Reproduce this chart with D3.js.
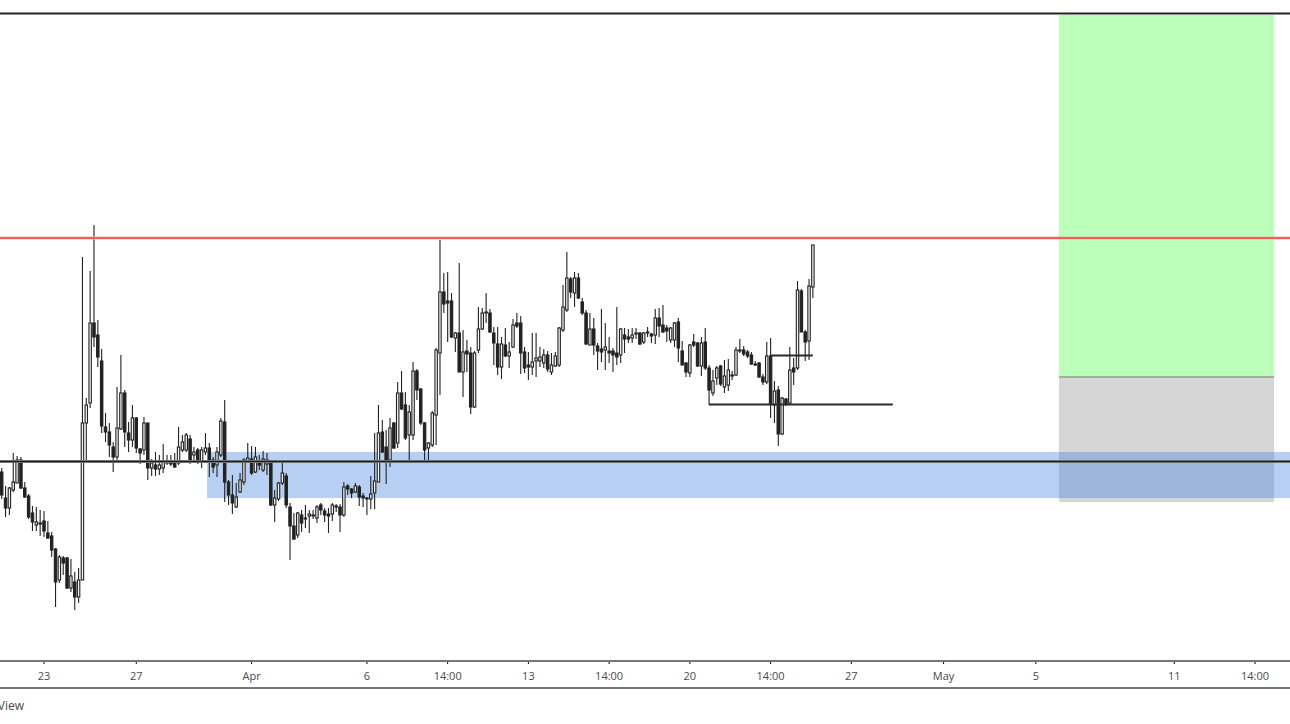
<!DOCTYPE html>
<html>
<head>
<meta charset="utf-8">
<script src="https://cdn.jsdelivr.net/npm/d3@7"></script>
<style>
html, body { margin: 0; padding: 0; background: #fff; overflow: hidden; }
</style>
</head>
<body>
<div id="container"></div>
<script>
// 4h candles, one array per field. price units are arbitrary (no price axis in the picture)
const opens = [
228,202,192,210,217,240,212,204,187,175,177,179,167,164,151,120,142,142,112,118,
103,120,277,297,377,365,339,273,268,253,243,271,307,267,260,282,251,250,277,232,
235,231,232,238,238,238,237,250,250,261,245,250,238,248,252,240,235,245,278,218,
205,193,208,218,238,241,228,238,230,236,237,195,201,217,224,193,174,165,185,182,
184,185,182,195,189,186,186,194,193,185,214,211,208,213,204,202,201,207,218,268,
253,240,277,257,307,295,265,265,329,311,277,252,255,285,347,408,399,399,362,367,
328,349,347,293,350,371,388,387,367,356,333,355,344,353,377,377,348,335,333,339,
339,337,345,328,334,335,370,390,421,407,422,398,387,355,371,354,351,350,349,349,
347,345,365,363,362,366,367,358,368,366,365,382,375,372,360,360,378,349,337,327,
358,357,334,358,332,307,322,334,313,315,325,325,350,350,348,345,336,337,323,318,
344,295,310,266,301,297,332,332,409,368,359,413
];
const highs = [
232,214,213,247,244,243,218,206,194,193,190,189,179,168,152,145,144,143,141,128,
132,443,302,429,475,380,351,287,277,258,313,345,310,278,295,283,252,283,277,241,
248,245,256,245,245,247,273,265,267,265,253,252,253,267,257,243,253,282,300,220,
225,217,227,242,257,254,253,245,249,247,238,210,218,238,227,197,187,188,190,195,
190,190,195,197,192,192,197,196,196,218,216,212,217,215,207,203,224,267,295,280,
270,282,278,318,329,308,295,338,331,312,278,258,289,352,460,427,428,407,368,437,
370,360,353,349,393,392,407,391,373,373,363,372,358,381,387,384,353,348,367,367,
353,351,349,347,348,373,415,448,423,428,427,402,390,387,382,357,391,377,363,352,
393,372,372,371,372,372,368,368,373,367,391,392,395,375,373,378,382,359,338,356,
366,358,363,372,335,330,334,335,340,341,329,353,361,354,350,348,339,338,326,358,
362,319,314,303,302,353,342,419,411,370,421,455
];
const lows = [
201,183,185,208,217,211,202,181,169,169,164,163,161,143,93,117,125,111,108,90,
97,120,237,292,353,333,267,258,243,228,238,270,253,248,253,247,236,245,220,224,
224,225,227,235,234,232,235,248,248,236,238,236,232,245,223,227,223,243,198,195,
186,192,207,215,237,225,227,230,228,225,194,178,199,215,192,140,160,162,168,172,
167,181,177,185,178,167,179,188,168,183,205,202,207,194,193,185,191,191,218,247,
216,233,251,252,290,260,237,260,300,275,237,237,253,255,305,387,358,362,348,328,
303,328,286,292,347,370,377,367,335,325,321,343,332,352,372,326,327,320,325,323,
333,332,328,325,333,333,368,388,402,393,401,385,355,355,345,330,338,330,337,328,
335,337,347,357,357,361,355,356,363,357,356,363,367,358,357,353,338,335,323,323,
353,333,324,330,295,304,315,314,307,309,320,324,347,344,342,335,334,322,315,316,
282,277,254,265,294,295,315,330,368,339,340,402
];
const closes = [
205,192,212,218,240,212,203,183,178,178,176,169,162,150,118,143,137,112,124,103,
120,277,295,377,363,343,274,268,255,243,272,307,268,260,282,252,247,277,232,237,
231,235,238,237,236,233,253,258,265,240,248,238,250,252,238,233,248,279,218,205,
197,203,220,240,242,227,243,235,241,240,195,202,217,227,195,174,161,187,177,181,
186,184,193,190,185,184,195,193,185,213,211,207,214,203,202,201,206,219,267,248,
238,272,252,307,291,262,288,329,310,277,250,257,287,350,408,396,397,363,367,328,
348,346,293,347,371,387,387,368,357,333,356,344,348,375,374,347,332,333,338,342,
343,345,331,335,344,372,393,422,408,422,402,387,356,371,355,349,348,353,347,345,
343,371,361,361,365,367,356,367,367,364,382,374,368,369,372,377,352,335,328,355,
355,334,357,332,310,319,332,316,324,330,324,350,349,346,344,336,335,323,318,344,
296,309,266,302,296,330,328,410,368,358,414,455
];

// price levels and zones
const topLevel = 686.5;
const resistance = 462;
const support = 238.5;
const zoneHigh = 248;
const zoneLow = 202;
const boxTop = 686;
const boxMid = 323;
const boxBottom = 198;
const zoneStart = 7.07;
const boxStart = 44;
const boxEnd = 53.33;
const shortLines = [
    { price: 295.5, from: 28.83, to: 36.8 },
    { price: 344.5, from: 31.5, to: 33.33 }
];

// x axis, in days after the "23" tick
const tickDays = [0, 4, 9, 14, 17.5, 21, 24.5, 28, 31.5, 35, 39, 43, 49, 52.5];
const tickLabels = ["23", "27", "Apr", "6", "14:00", "13", "14:00", "20", "14:00", "27", "May", "5", "11", "14:00"];

const width = 1290;
const height = 724;
const axisTop = 661;
const axisBottom = 688;
const barsPerDay = 6;
const firstBarDay = -11 / barsPerDay;

const x = d3.scaleLinear().domain([0, 52.5]).range([44, 1255]);
const y = d3.scaleLinear().domain([0, 700]).range([700, 0]);
const barDay = i => firstBarDay + i / barsPerDay;

const svg = d3.select("#container").append("svg")
    .attr("width", width)
    .attr("height", height)
    .style("display", "block");

// target box
svg.append("rect")
    .attr("x", x(boxStart)).attr("width", x(boxEnd) - x(boxStart))
    .attr("y", y(boxTop)).attr("height", y(boxMid) - y(boxTop))
    .attr("fill", "#bbffbb");
svg.append("rect")
    .attr("x", x(boxStart)).attr("width", x(boxEnd) - x(boxStart))
    .attr("y", y(boxMid)).attr("height", y(boxBottom) - y(boxMid))
    .attr("fill", "#d6d6d6");
svg.append("line")
    .attr("x1", x(boxStart)).attr("x2", x(boxEnd))
    .attr("y1", y(boxMid)).attr("y2", y(boxMid))
    .attr("stroke", "#8c9c8c").attr("stroke-width", 1.5);

// blue zone
svg.append("rect")
    .attr("x", x(zoneStart)).attr("width", width - x(zoneStart))
    .attr("y", y(zoneHigh)).attr("height", y(zoneLow) - y(zoneHigh))
    .attr("fill", "#4887e1").attr("fill-opacity", 0.4);

// candles
const candles = svg.append("g")
    .selectAll("g")
    .data(d3.range(opens.length))
    .join("g");

candles.append("line")
    .attr("x1", i => x(barDay(i)))
    .attr("x2", i => x(barDay(i)))
    .attr("y1", i => y(highs[i]))
    .attr("y2", i => y(lows[i]))
    .attr("stroke", "#222")
    .attr("stroke-width", 1.1);

candles.append("rect")
    .attr("x", i => x(barDay(i)) - 1.2)
    .attr("width", 2.4)
    .attr("y", i => y(Math.max(opens[i], closes[i])))
    .attr("height", i => Math.abs(opens[i] - closes[i]))
    .attr("fill", i => closes[i] >= opens[i] ? "#f4f4f4" : "#222")
    .attr("stroke", "#222")
    .attr("stroke-width", 1.1);

// horizontal levels
const fullLine = (price, color, w) => svg.append("line")
    .attr("x1", 0).attr("x2", width)
    .attr("y1", y(price)).attr("y2", y(price))
    .attr("stroke", color).attr("stroke-width", w);

fullLine(topLevel, "#b8b8b8", 3);
fullLine(topLevel, "#222", 1.6);
fullLine(resistance, "#f6b3ac", 3);
fullLine(resistance, "#e4483c", 1.5);
fullLine(support, "#8a8f96", 3);
fullLine(support, "#1c1c1c", 1.6);

svg.append("g")
    .selectAll("line")
    .data(shortLines)
    .join("line")
    .attr("x1", d => x(d.from))
    .attr("x2", d => x(d.to))
    .attr("y1", d => y(d.price))
    .attr("y2", d => y(d.price))
    .attr("stroke", "#2a2a2a")
    .attr("stroke-width", 2.2);

// time axis
const xAxis = d3.axisBottom(x)
    .tickValues(tickDays)
    .tickFormat((d, i) => tickLabels[i])
    .tickSize(3)
    .tickPadding(8);

const axis = svg.append("g")
    .attr("transform", `translate(-0.5,${axisTop})`)
    .call(xAxis);
axis.select(".domain").remove();
axis.selectAll("text")
    .attr("fill", "#4a4a4a")
    .style("font-family", "'Open Sans', sans-serif")
    .style("font-size", "11px");

svg.selectAll(".axisBorder")
    .data([axisTop, axisBottom])
    .join("line")
    .attr("class", "axisBorder")
    .attr("x1", 0).attr("x2", width)
    .attr("y1", d => d).attr("y2", d => d)
    .attr("stroke", "#777")
    .attr("stroke-width", 2);

// logo text, runs off the left edge
svg.append("text")
    .attr("x", 24)
    .attr("y", 710)
    .attr("text-anchor", "end")
    .attr("fill", "#4a4a4a")
    .style("font-family", "'Open Sans', sans-serif")
    .style("font-size", "12px")
    .text("TradingView");
</script>
</body>
</html>
